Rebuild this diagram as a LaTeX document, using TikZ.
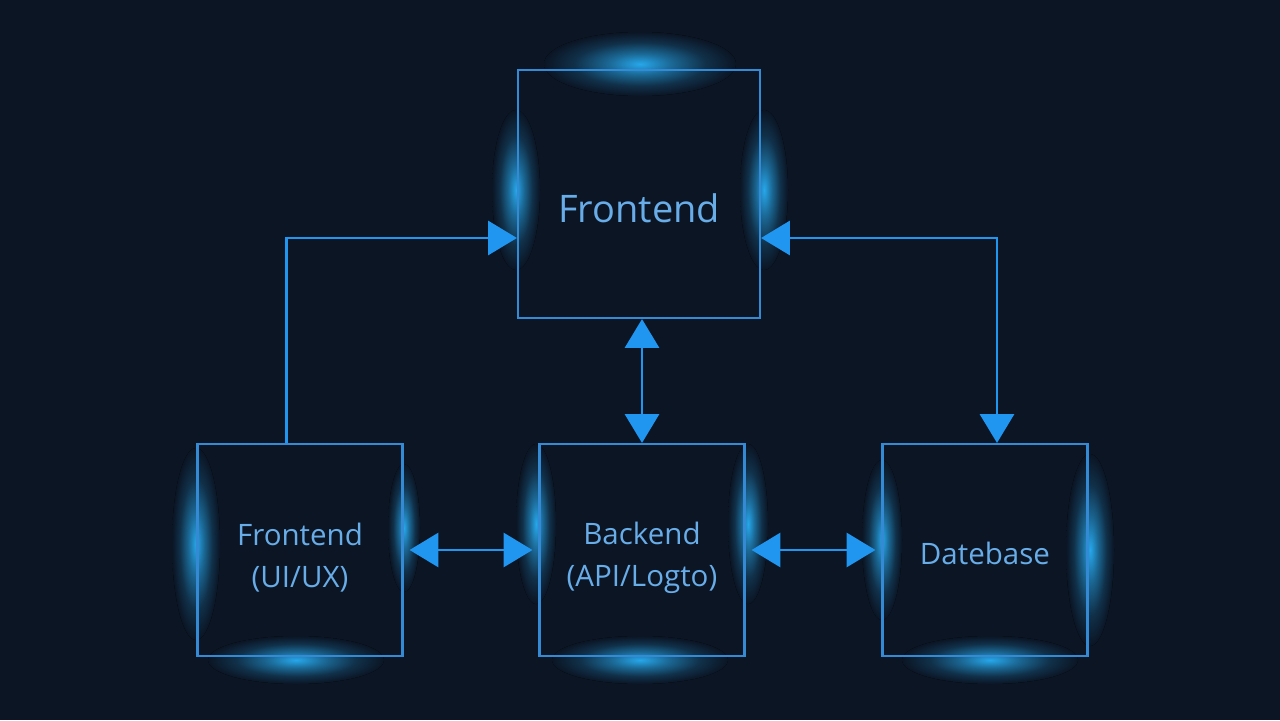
\documentclass[tikz,border=0pt]{standalone}
\usepackage{fontspec}
\setmainfont{Open Sans}
\usetikzlibrary{arrows.meta}
\definecolor{bg}{RGB}{11,21,36}
\definecolor{edgeblue}{RGB}{52,138,212}
\definecolor{tipblue}{RGB}{32,150,240}
\definecolor{txtblue}{RGB}{104,172,232}
\definecolor{glowc}{RGB}{40,175,245}
\pgfdeclareradialshading{glowshade}{\pgfpoint{0bp}{0bp}}{color(0bp)=(glowc!95!bg); color(8bp)=(glowc!55!bg); color(17bp)=(glowc!18!bg); color(25bp)=(bg); color(50bp)=(bg)}
\tikzset{
  bigtip/.tip={Triangle[length=0.72cm, width=0.85cm]},
  box/.style={draw=edgeblue, line width=1.5pt, minimum width=5.125cm, minimum height=5.3cm},
  link/.style={draw=tipblue, line width=2pt, bigtip-bigtip},
  glow/.style={shading=glowshade}
}
\begin{document}
\begin{tikzpicture}[every node/.style={font=\fontsize{21}{30}\selectfont, text=txtblue, align=center}]
  \fill[bg] (0,0) rectangle (32,18);
  \useasboundingbox (0,0) rectangle (32,18);
  % glows round the boxes
  \fill[glow] (16,16.4) ellipse (2.4cm and 0.8cm);
  \fill[glow] (12.9,13.25) ellipse (0.6cm and 2cm);
  \fill[glow] (19.1,13.25) ellipse (0.6cm and 2cm);
  \fill[glow] (4.9,4.4) ellipse (0.6cm and 2.4cm);
  \fill[glow] (10.1,4.8) ellipse (0.4cm and 1.6cm);
  \fill[glow] (7.4,1.5) ellipse (2.2cm and 0.6cm);
  \fill[glow] (13.4,4.9) ellipse (0.5cm and 2cm);
  \fill[glow] (18.7,4.9) ellipse (0.5cm and 2cm);
  \fill[glow] (16,1.5) ellipse (2.2cm and 0.6cm);
  \fill[glow] (22.05,4.5) ellipse (0.5cm and 2cm);
  \fill[glow] (27.25,4.25) ellipse (0.6cm and 2.4cm);
  \fill[glow] (24.75,1.5) ellipse (2.2cm and 0.6cm);
  % boxes
  \node[box, minimum width=6.05cm, minimum height=6.2cm,
        label={[yshift=-0.35cm, font=\fontsize{27}{32}\selectfont]center:Frontend}] (fe) at (15.975,13.15) {};
  \node[box, label={[yshift=-0.2cm]center:{Frontend\\(UI/UX)}}] (ui) at (7.5,4.25) {};
  \node[box, label={[yshift=-0.2cm]center:{Backend\\(API/Logto)}}] (api) at (16.05,4.25) {};
  \node[box, label={[yshift=-0.08cm]center:Datebase}] (db) at (24.625,4.25) {};
  % connectors
  \draw[link, -bigtip] ([xshift=-0.33cm]ui.north) |- ([yshift=-1.1cm]fe.west);
  \draw[link] ([xshift=0.3cm]db.north) |- ([yshift=-1.1cm]fe.east);
  \draw[link] (api.north) -- (api.north |- fe.south);
  \draw[link, shorten <=0.15cm, shorten >=0.15cm] (ui.east) -- (api.west);
  \draw[link, shorten <=0.15cm, shorten >=0.15cm] (api.east) -- (db.west);
\end{tikzpicture}
\end{document}
